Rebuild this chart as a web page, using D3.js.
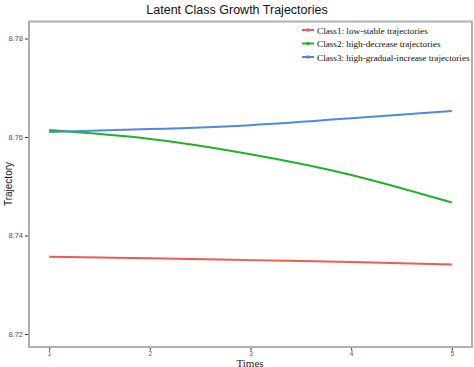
<!DOCTYPE html>
<html><head><meta charset="utf-8">
<script src="https://cdn.jsdelivr.net/npm/d3@7"></script>
<style>body{margin:0;background:#fff}svg{display:block}</style>
</head><body>
<svg id="chart" width="474" height="367"></svg>
<script>
const times = [1, 2, 3, 4, 5];
const class1 = [8.7357, 8.7354, 8.7350, 8.7346, 8.7341];
const class2 = [8.7614, 8.7596, 8.7565, 8.7523, 8.7467];
const class3 = [8.7610, 8.7616, 8.7624, 8.7638, 8.7653];
const seriesNames = ["Class1: low-stable trajectories", "Class2: high-decrease trajectories", "Class3: high-gradual-increase trajectories"];
const colors = ["#ee5b50", "#1fb22a", "#4e88e6"];
const yTicks = [8.72, 8.74, 8.76, 8.78];
const xTicks = [1, 2, 3, 4, 5];

const svg = d3.select("#chart");
const panel = {left: 29, right: 472, top: 21.5, bottom: 347};

const x = d3.scaleLinear().domain([0.8, 5.2]).range([panel.left, panel.right]);
const y = d3.scaleLinear().domain([8.72, 8.78]).range([334, 38.5]);

// title
svg.append("text").attr("x", 237).attr("y", 14).attr("text-anchor", "middle")
  .attr("font-family", "Liberation Sans, Arial, sans-serif").attr("font-size", 12.5).attr("fill", "#111")
  .text("Latent Class Growth Trajectories");

// lines
const data = [class1, class2, class3];
const line = d3.line().x((d, i) => x(times[i])).y(d => y(d)).curve(d3.curveNatural);
data.forEach((s, i) => {
  svg.append("path").datum(s).attr("d", line).attr("fill", "none")
    .attr("stroke", colors[i]).attr("stroke-width", 2).attr("stroke-linecap", "butt");
});

// panel border
svg.append("rect").attr("x", panel.left).attr("y", panel.top)
  .attr("width", panel.right - panel.left).attr("height", panel.bottom - panel.top)
  .attr("fill", "none").attr("stroke", "#b0b0b0").attr("stroke-width", 2);

// y axis
const yAxis = d3.axisLeft(y).tickValues(yTicks).tickFormat(d3.format(".2f")).tickSize(3).tickPadding(2);
const gy = svg.append("g").attr("transform", `translate(${panel.left - 1},0)`).call(yAxis);
gy.select(".domain").remove();
gy.selectAll(".tick line").attr("stroke", "#333");
gy.selectAll(".tick text").attr("font-family", "Liberation Sans, Arial, sans-serif").attr("font-size", 7.5).attr("fill", "#555");

// x axis
const xAxis = d3.axisBottom(x).tickValues(xTicks).tickFormat(d3.format("d")).tickSize(2.5).tickPadding(1);
const gx = svg.append("g").attr("transform", `translate(0,${panel.bottom + 1})`).call(xAxis);
gx.select(".domain").remove();
gx.selectAll(".tick line").attr("stroke", "#333");
gx.selectAll(".tick text").attr("font-family", "Liberation Sans, Arial, sans-serif").attr("font-size", 6.5).attr("fill", "#555");

// axis titles
svg.append("text").attr("x", 250).attr("y", 366.5).attr("text-anchor", "middle")
  .attr("font-family", "Liberation Serif, Times New Roman, serif").attr("font-size", 11).attr("fill", "#222")
  .text("Times");
svg.append("text").attr("transform", "translate(12,184) rotate(-90)").attr("text-anchor", "middle")
  .attr("font-family", "Liberation Sans, Arial, sans-serif").attr("font-size", 10).attr("fill", "#111")
  .text("Trajectory");

// legend
const lg = svg.append("g");
seriesNames.forEach((n, i) => {
  const yy = 30 + i * 13.5;
  lg.append("line").attr("x1", 302).attr("x2", 314).attr("y1", yy).attr("y2", yy)
    .attr("stroke", colors[i]).attr("stroke-width", 2);
  lg.append("circle").attr("cx", 308).attr("cy", yy).attr("r", 1.8).attr("fill", colors[i]);
  lg.append("text").attr("x", 317).attr("y", yy + 3.5)
    .attr("font-family", "Liberation Serif, Times New Roman, serif").attr("font-size", 9.2).attr("fill", "#111")
    .text(n);
});
</script>
</body></html>
